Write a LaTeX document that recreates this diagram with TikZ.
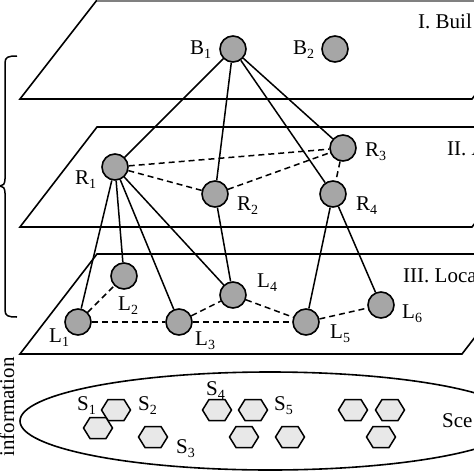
\documentclass[tikz,border=0pt]{standalone}
\usepackage{fontspec}
\setmainfont{Liberation Serif}
\newcommand\lbsub[2]{#1\raisebox{-0.45ex}{\fontsize{14}{14}\selectfont #2}}
\definecolor{nodegray}{gray}{0.65}
\definecolor{hexgray}{gray}{0.91}
\begin{document}
\begin{tikzpicture}[x=1pt,y=-1pt,
  plane/.style={line width=1.6pt, line join=miter},
  nd/.style={circle, draw, fill=nodegray, line width=1.6pt, minimum size=26pt, inner sep=0pt},
  sol/.style={line width=1.5pt},
  dsh/.style={line width=1.5pt, dash pattern=on 6pt off 4pt},
  lbl/.style={anchor=base west, inner sep=0pt, font=\fontsize{21}{21}\selectfont},
  hexst/.style={draw, fill=hexgray, line width=1.5pt, line join=miter}]
\useasboundingbox (0,0) rectangle (474,474);
\clip (0,0) rectangle (474,474);
% planes
\draw[plane] (549,0) -- (472,99) -- (20,99) -- (97,0);
\draw[gray, line width=2.2pt] (97,1) -- (474,1);
\draw[plane] (97,127) -- (20,227) -- (472,227) -- (549,127) -- cycle;
\draw[plane] (97,254) -- (20,354) -- (462,354) -- (539,254) -- cycle;
% scene ellipse
\draw[line width=1.6pt] (270,421) ellipse [x radius=250, y radius=49];
% brace
\draw[line width=1.5pt] (17,56) .. controls (8,56) and (5,57) .. (5,63) -- (5,179)
  .. controls (5,184) and (3,186) .. (0,186) .. controls (3,186) and (5,188) .. (5,193)
  -- (5,310) .. controls (5,316) and (8,317) .. (17,317);
\node[rotate=90, anchor=base, inner sep=0pt, font=\fontsize{21}{21}\selectfont] (info) at (14,407) {information};
% hexagons
\foreach \x/\y in {116/410, 98/428, 153/437, 217/410, 253/410, 244/437, 290/437, 353/410, 390/410, 381/437}
  \draw[hexst] (\x,\y) +(-14.5,0) -- +(-8,-10.5) -- +(8,-10.5) -- +(14.5,0) -- +(8,10.5) -- +(-8,10.5) -- cycle;
% nodes
\node[nd] (B1) at (233,49) {};
\node[nd] (B2) at (335,49) {};
\node[nd] (R1) at (115,167) {};
\node[nd] (R2) at (215,194) {};
\node[nd] (R3) at (343,148) {};
\node[nd] (R4) at (333,194) {};
\node[nd] (L1) at (78,322) {};
\node[nd] (L2) at (124,276) {};
\node[nd] (L3) at (179,322) {};
\node[nd] (L4) at (233,295) {};
\node[nd] (L5) at (306,322) {};
\node[nd] (L6) at (381,305) {};
% solid edges
\draw[sol] (B1) -- (R1);
\draw[sol] (B1) -- (R2);
\draw[sol] (B1) -- (R3);
\draw[sol] (B1) -- (R4);
\draw[sol] (R1) -- (L1);
\draw[sol] (R1) -- (L2);
\draw[sol] (R1) -- (L3);
\draw[sol] (R1) -- (L4);
\draw[sol] (R2) -- (L4);
\draw[sol] (R4) -- (L5);
\draw[sol] (R4) -- (L6);
% dashed edges
\draw[dsh] (R1) -- (R3);
\draw[dsh] (R1) -- (R2);
\draw[dsh] (R2) -- (R3);
\draw[dsh] (R3) -- (R4);
\draw[dsh] (L1) -- (L2);
\draw[dsh] (L1) -- (L3);
\draw[dsh] (L3) -- (L4);
\draw[dsh] (L3) -- (L5);
\draw[dsh] (L4) -- (L5);
\draw[dsh] (L5) -- (L6);
% labels
\node[lbl] (tB1) at (190,54) {\lbsub{B}{1}};
\node[lbl] (tB2) at (293,54) {\lbsub{B}{2}};
\node[lbl] (tR1) at (75,184) {\lbsub{R}{1}};
\node[lbl] (tR2) at (237,210) {\lbsub{R}{2}};
\node[lbl] (tR3) at (365,156) {\lbsub{R}{3}};
\node[lbl] (tR4) at (356,210) {\lbsub{R}{4}};
\node[lbl] (tL1) at (49,342) {\lbsub{L}{1}};
\node[lbl] (tL2) at (118,310) {\lbsub{L}{2}};
\node[lbl] (tL3) at (195,345) {\lbsub{L}{3}};
\node[lbl] (tL4) at (257,287) {\lbsub{L}{4}};
\node[lbl] (tL5) at (330,338) {\lbsub{L}{5}};
\node[lbl] (tL6) at (402,318) {\lbsub{L}{6}};
\node[lbl] (tS1) at (77,410) {\lbsub{S}{1}};
\node[lbl] (tS2) at (138,410) {\lbsub{S}{2}};
\node[lbl] (tS3) at (176,453) {\lbsub{S}{3}};
\node[lbl] (tS4) at (206,395) {\lbsub{S}{4}};
\node[lbl] (tS5) at (274,410) {\lbsub{S}{5}};
\node[lbl] (tI) at (418,28) {I. Buil};
\node[lbl] (tII) at (447,155) {II. A};
\node[lbl] (tIII) at (403,282) {III. Loca};
\node[lbl] (tSc) at (442,427) {Sce};
\end{tikzpicture}
\end{document}
